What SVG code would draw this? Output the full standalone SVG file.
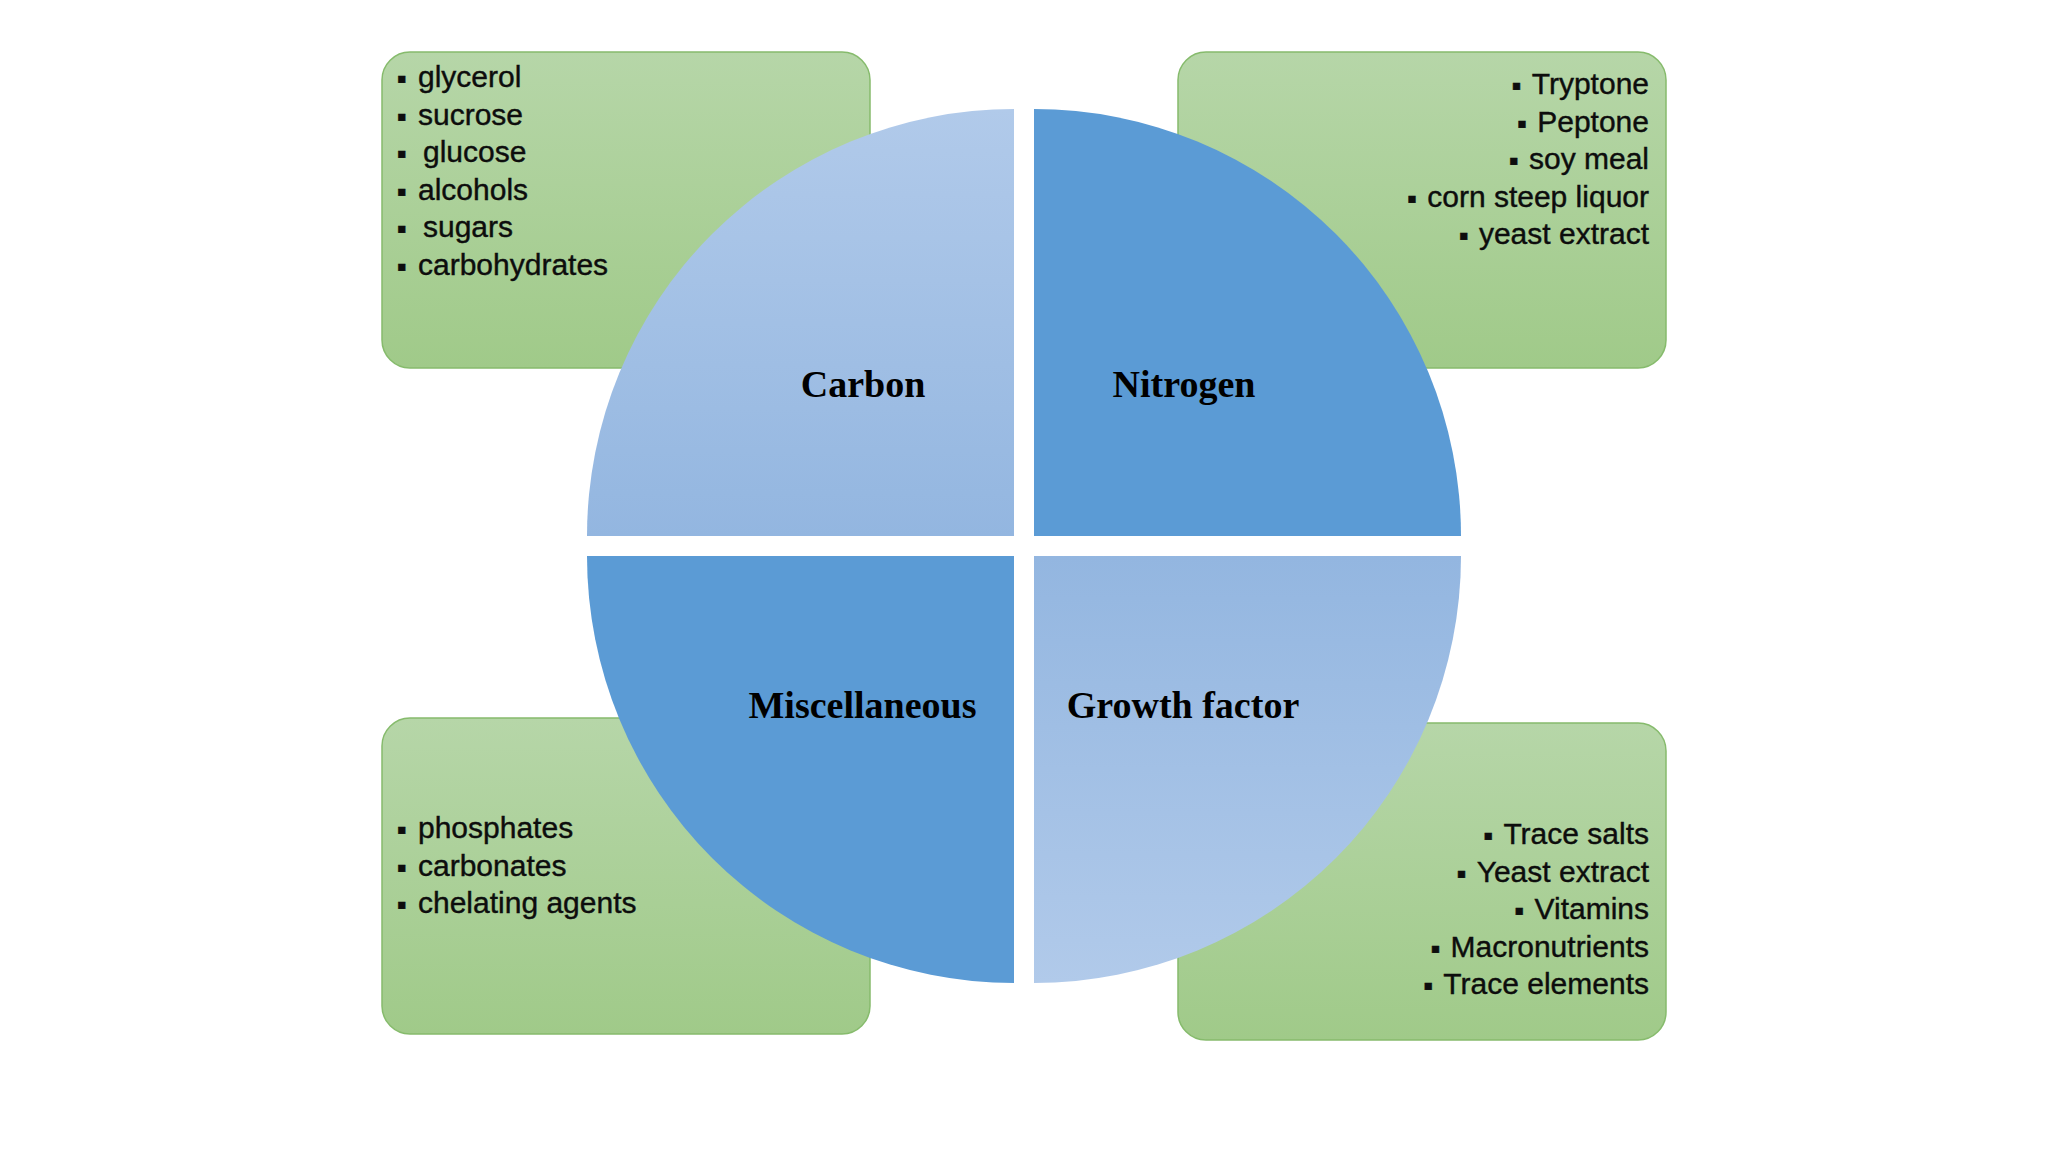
<svg xmlns="http://www.w3.org/2000/svg" width="2048" height="1152" viewBox="0 0 2048 1152">
  <defs>
    <linearGradient id="gGreen" x1="0" y1="0" x2="0" y2="1">
      <stop offset="0" stop-color="#b6d6a8"/>
      <stop offset="1" stop-color="#a0ca89"/>
    </linearGradient>
    <linearGradient id="gBlueDown" x1="0" y1="0" x2="0" y2="1">
      <stop offset="0" stop-color="#b1caea"/>
      <stop offset="1" stop-color="#93b6e0"/>
    </linearGradient>
    <linearGradient id="gBlueUp" x1="0" y1="0" x2="0" y2="1">
      <stop offset="0" stop-color="#93b6e0"/>
      <stop offset="1" stop-color="#b1caea"/>
    </linearGradient>
  </defs>
  <style>
    .box { fill: url(#gGreen); stroke: #86bb6c; stroke-width: 1.5; }
    .item { font-family: "Liberation Sans", Arial, sans-serif; font-size: 30px; fill: #0d0d0d; stroke: #0d0d0d; stroke-width: 0.4; }
    .r { text-anchor: end; }
    .bu { font-size: 28px; }
    .dark { fill: #5b9bd5; }
    .lightA { fill: url(#gBlueDown); }
    .lightB { fill: url(#gBlueUp); }
    .label { font-family: "Liberation Serif", "Times New Roman", serif; font-weight: bold; font-size: 38px; fill: #000; text-anchor: middle; }
  </style>
  <rect width="2048" height="1152" fill="#ffffff"/>

  <g id="box-carbon">
    <rect class="box" x="382" y="52" width="488" height="316" rx="28" ry="28"/>
    <text class="item" x="397" y="87"><tspan class="bu" dy="1">▪</tspan><tspan x="418" dy="-1">glycerol</tspan></text>
    <text class="item" x="397" y="124.5"><tspan class="bu" dy="1">▪</tspan><tspan x="418" dy="-1">sucrose</tspan></text>
    <text class="item" x="397" y="162"><tspan class="bu" dy="1">▪</tspan><tspan x="423" dy="-1">glucose</tspan></text>
    <text class="item" x="397" y="199.5"><tspan class="bu" dy="1">▪</tspan><tspan x="418" dy="-1">alcohols</tspan></text>
    <text class="item" x="397" y="237"><tspan class="bu" dy="1">▪</tspan><tspan x="423" dy="-1">sugars</tspan></text>
    <text class="item" x="397" y="274.5"><tspan class="bu" dy="1">▪</tspan><tspan x="418" dy="-1">carbohydrates</tspan></text>
  </g>

  <g id="box-nitrogen">
    <rect class="box" x="1178" y="52" width="488" height="316" rx="28" ry="28"/>
    <text class="item r" x="1649" y="94"><tspan class="bu" dy="1">▪</tspan><tspan dx="10" dy="-1">Tryptone</tspan></text>
    <text class="item r" x="1649" y="131.5"><tspan class="bu" dy="1">▪</tspan><tspan dx="10" dy="-1">Peptone</tspan></text>
    <text class="item r" x="1649" y="169"><tspan class="bu" dy="1">▪</tspan><tspan dx="10" dy="-1">soy meal</tspan></text>
    <text class="item r" x="1649" y="206.5"><tspan class="bu" dy="1">▪</tspan><tspan dx="10" dy="-1">corn steep liquor</tspan></text>
    <text class="item r" x="1649" y="244"><tspan class="bu" dy="1">▪</tspan><tspan dx="10" dy="-1">yeast extract</tspan></text>
  </g>

  <g id="box-misc">
    <rect class="box" x="382" y="718" width="488" height="316" rx="28" ry="28"/>
    <text class="item" x="397" y="838"><tspan class="bu" dy="1">▪</tspan><tspan x="418" dy="-1">phosphates</tspan></text>
    <text class="item" x="397" y="875.5"><tspan class="bu" dy="1">▪</tspan><tspan x="418" dy="-1">carbonates</tspan></text>
    <text class="item" x="397" y="913"><tspan class="bu" dy="1">▪</tspan><tspan x="418" dy="-1">chelating agents</tspan></text>
  </g>

  <g id="box-growth">
    <rect class="box" x="1178" y="723" width="488" height="317" rx="28" ry="28"/>
    <text class="item r" x="1649" y="844"><tspan class="bu" dy="1">▪</tspan><tspan dx="10" dy="-1">Trace salts</tspan></text>
    <text class="item r" x="1649" y="881.5"><tspan class="bu" dy="1">▪</tspan><tspan dx="10" dy="-1">Yeast extract</tspan></text>
    <text class="item r" x="1649" y="919"><tspan class="bu" dy="1">▪</tspan><tspan dx="10" dy="-1">Vitamins</tspan></text>
    <text class="item r" x="1649" y="956.5"><tspan class="bu" dy="1">▪</tspan><tspan dx="10" dy="-1">Macronutrients</tspan></text>
    <text class="item r" x="1649" y="994"><tspan class="bu" dy="1">▪</tspan><tspan dx="10" dy="-1">Trace elements</tspan></text>
  </g>

  <g id="quad-carbon">
    <path class="lightA" d="M1014,536 L587,536 A427,427 0 0 1 1014,109 Z"/>
    <text class="label" x="863" y="397">Carbon</text>
  </g>
  <g id="quad-nitrogen">
    <path class="dark" d="M1034,536 L1034,109 A427,427 0 0 1 1461,536 Z"/>
    <text class="label" x="1184" y="397">Nitrogen</text>
  </g>
  <g id="quad-misc">
    <path class="dark" d="M1014,556 L1014,983 A427,427 0 0 1 587,556 Z"/>
    <text class="label" x="862.5" y="718">Miscellaneous</text>
  </g>
  <g id="quad-growth">
    <path class="lightB" d="M1034,556 L1461,556 A427,427 0 0 1 1034,983 Z"/>
    <text class="label" x="1183" y="718">Growth factor</text>
  </g>

  <g id="connectors"></g>
</svg>
